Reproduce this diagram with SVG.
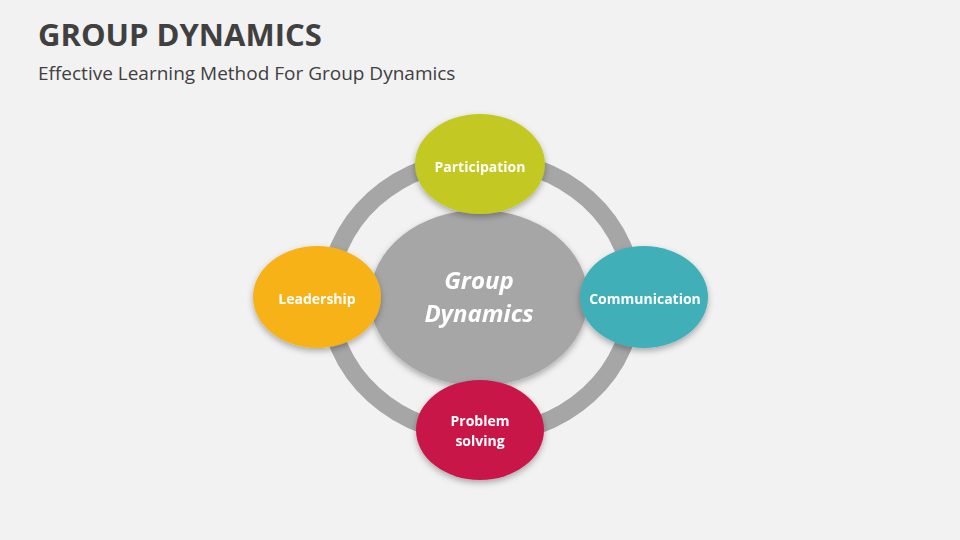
<svg xmlns="http://www.w3.org/2000/svg" width="960" height="540" viewBox="0 0 960 540">
<defs>
<filter id="sh" x="-20%" y="-20%" width="140%" height="150%"><feDropShadow dx="0" dy="3" stdDeviation="3" flood-color="#000" flood-opacity="0.3"/></filter>
</defs>
<style>
.lbl{font-family:"Open Sans","Liberation Sans",sans-serif;font-weight:bold;font-size:14px;fill:#fff;text-anchor:middle}
</style>
<rect width="960" height="540" fill="#F2F2F2"/>
<text x="38" y="46" font-family="Open Sans,Liberation Sans,sans-serif" font-weight="bold" font-size="31" fill="#404040">GROUP DYNAMICS</text>
<text x="38" y="80" font-family="Open Sans,Liberation Sans,sans-serif" font-size="19" fill="#404040">Effective Learning Method For Group Dynamics</text>
<g id="connectors">
<ellipse cx="481" cy="297" rx="152" ry="138" fill="none" stroke="#A6A6A6" stroke-width="18"/>
</g>
<g id="center" filter="url(#sh)">
<ellipse cx="479" cy="298" rx="109" ry="88" fill="#A6A6A6"/>
<text x="479" y="289" class="lbl" style="font-size:24px;font-style:italic">Group</text>
<text x="479" y="322" class="lbl" style="font-size:24px;font-style:italic">Dynamics</text>
</g>
<g id="participation" filter="url(#sh)">
<ellipse cx="480" cy="164" rx="65" ry="50" fill="#C3C921"/>
<text x="480" y="172" class="lbl">Participation</text>
</g>
<g id="communication" filter="url(#sh)">
<ellipse cx="644" cy="297" rx="64" ry="51" fill="#3FAFB8"/>
<text x="645" y="304" class="lbl">Communication</text>
</g>
<g id="problem" filter="url(#sh)">
<ellipse cx="480" cy="430" rx="64" ry="50" fill="#C8174A"/>
<text x="480" y="426" class="lbl">Problem</text>
<text x="480" y="446" class="lbl">solving</text>
</g>
<g id="leadership" filter="url(#sh)">
<ellipse cx="317" cy="297" rx="64" ry="51" fill="#F6B219"/>
<text x="317" y="304" class="lbl">Leadership</text>
</g>
</svg>
